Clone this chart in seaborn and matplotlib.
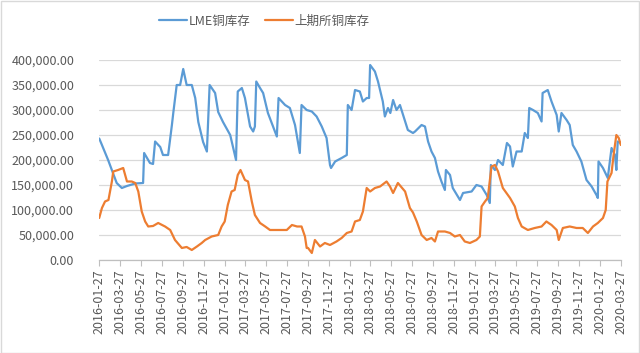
import matplotlib
matplotlib.use("Agg")
import matplotlib.pyplot as plt
import matplotlib.ticker as mticker
from matplotlib.patches import Rectangle
import seaborn as sns
import pandas as pd

series_names = ["LME铜库存", "上期所铜库存"]

lme_dates = [
    "2016-01-27", "2016-02-01", "2016-02-22", "2016-03-18", "2016-04-02", "2016-04-17",
    "2016-05-11", "2016-06-03", "2016-06-06", "2016-06-23", "2016-07-02", "2016-07-08",
    "2016-07-23", "2016-07-31", "2016-08-15", "2016-08-26", "2016-08-30", "2016-09-09",
    "2016-09-19", "2016-09-28", "2016-10-08", "2016-10-23", "2016-11-02", "2016-11-11",
    "2016-11-25", "2016-12-06", "2016-12-14", "2016-12-30", "2017-01-08", "2017-01-22",
    "2017-02-12", "2017-03-01", "2017-03-06", "2017-03-18", "2017-03-27", "2017-04-11",
    "2017-04-20", "2017-04-25", "2017-04-29", "2017-05-10", "2017-05-19", "2017-06-02",
    "2017-06-28", "2017-07-03", "2017-07-22", "2017-08-05", "2017-08-20", "2017-09-03",
    "2017-09-08", "2017-09-23", "2017-10-08", "2017-10-22", "2017-11-06", "2017-11-20",
    "2017-11-30", "2017-12-03", "2017-12-15", "2018-01-03", "2018-01-18", "2018-01-21",
    "2018-02-01", "2018-02-11", "2018-02-25", "2018-03-06", "2018-03-17", "2018-03-24",
    "2018-03-27", "2018-04-10", "2018-04-19", "2018-05-03", "2018-05-09", "2018-05-18",
    "2018-05-25", "2018-06-02", "2018-06-12", "2018-06-22", "2018-07-07", "2018-07-15",
    "2018-07-30", "2018-08-05", "2018-08-24", "2018-09-03", "2018-09-12", "2018-09-22",
    "2018-10-02", "2018-10-11", "2018-10-21", "2018-10-31", "2018-11-03", "2018-11-15",
    "2018-11-23", "2018-12-14", "2018-12-23", "2019-01-17", "2019-01-31", "2019-02-15",
    "2019-03-02", "2019-03-11", "2019-03-14", "2019-03-26", "2019-04-04", "2019-04-18",
    "2019-04-30", "2019-05-09", "2019-05-17", "2019-05-28", "2019-06-12", "2019-06-21",
    "2019-06-30", "2019-07-04", "2019-07-15", "2019-07-29", "2019-08-09", "2019-08-12",
    "2019-08-27", "2019-09-07", "2019-09-22", "2019-09-28", "2019-10-06", "2019-10-21",
    "2019-10-30", "2019-11-08", "2019-11-19", "2019-12-03", "2019-12-18", "2020-01-02",
    "2020-01-16", "2020-01-20", "2020-01-22", "2020-02-04", "2020-02-18", "2020-02-29",
    "2020-03-10", "2020-03-14", "2020-03-18", "2020-03-27",
]
lme_values = [
    243000, 235000, 200000, 154000, 144000, 148000,
    153000, 154000, 214000, 194000, 192000, 237000,
    226000, 210000, 210000, 270000, 294000, 350000,
    350000, 382000, 350000, 350000, 324000, 276000,
    236000, 217000, 350000, 334000, 296000, 276000,
    250000, 200000, 337000, 344000, 324000, 267000,
    257000, 267000, 357000, 344000, 334000, 294000,
    247000, 324000, 310000, 304000, 270000, 214000,
    310000, 300000, 297000, 287000, 267000, 244000,
    190000, 184000, 197000, 204000, 210000, 310000,
    300000, 340000, 337000, 317000, 324000, 324000,
    390000, 377000, 357000, 317000, 287000, 304000,
    294000, 320000, 300000, 310000, 277000, 260000,
    254000, 257000, 270000, 267000, 237000, 217000,
    204000, 177000, 157000, 140000, 180000, 170000,
    144000, 120000, 134000, 137000, 150000, 147000,
    130000, 114000, 190000, 180000, 200000, 190000,
    234000, 227000, 187000, 217000, 217000, 254000,
    244000, 304000, 300000, 294000, 277000, 334000,
    340000, 317000, 290000, 257000, 294000, 280000,
    270000, 230000, 217000, 197000, 160000, 147000,
    130000, 124000, 197000, 184000, 164000, 224000,
    210000, 180000, 237000, 234000,
]

shfe_dates = [
    "2016-01-27", "2016-02-04", "2016-02-13", "2016-02-23", "2016-03-04", "2016-03-08",
    "2016-03-22", "2016-04-06", "2016-04-17", "2016-05-01", "2016-05-11", "2016-05-20",
    "2016-05-30", "2016-06-09", "2016-06-18", "2016-07-02", "2016-07-17", "2016-08-06",
    "2016-08-21", "2016-09-04", "2016-09-24", "2016-10-08", "2016-10-23", "2016-11-07",
    "2016-11-21", "2016-12-01", "2016-12-20", "2017-01-08", "2017-01-18", "2017-01-27",
    "2017-02-05", "2017-02-16", "2017-02-25", "2017-03-06", "2017-03-14", "2017-03-27",
    "2017-04-05", "2017-04-16", "2017-04-25", "2017-05-10", "2017-05-25", "2017-06-08",
    "2017-07-07", "2017-07-27", "2017-08-11", "2017-08-26", "2017-09-08", "2017-09-18",
    "2017-09-23", "2017-09-27", "2017-10-08", "2017-10-17", "2017-11-01", "2017-11-15",
    "2017-11-30", "2017-12-19", "2018-01-03", "2018-01-18", "2018-02-01", "2018-02-11",
    "2018-02-25", "2018-03-06", "2018-03-17", "2018-03-27", "2018-04-10", "2018-04-25",
    "2018-05-14", "2018-05-24", "2018-06-02", "2018-06-16", "2018-07-07", "2018-07-21",
    "2018-07-30", "2018-08-10", "2018-08-24", "2018-09-08", "2018-09-22", "2018-10-02",
    "2018-10-11", "2018-10-31", "2018-11-15", "2018-11-29", "2018-12-14", "2018-12-28",
    "2019-01-12", "2019-01-31", "2019-02-10", "2019-02-15", "2019-02-25", "2019-03-05",
    "2019-03-16", "2019-03-26", "2019-04-04", "2019-04-18", "2019-05-09", "2019-05-23",
    "2019-06-01", "2019-06-12", "2019-06-30", "2019-07-20", "2019-08-09", "2019-08-23",
    "2019-09-07", "2019-09-22", "2019-09-28", "2019-10-10", "2019-10-30", "2019-11-19",
    "2019-12-07", "2019-12-22", "2020-01-06", "2020-01-20", "2020-02-04", "2020-02-12",
    "2020-02-17", "2020-02-29", "2020-03-06", "2020-03-14", "2020-03-21", "2020-03-27",
]
shfe_values = [
    84000, 104000, 117000, 120000, 157000, 177000,
    180000, 184000, 157000, 157000, 154000, 137000,
    97000, 77000, 67000, 68000, 74000, 67000,
    60000, 40000, 24000, 26000, 20000, 27000,
    34000, 40000, 47000, 50000, 67000, 77000,
    110000, 137000, 140000, 170000, 180000, 160000,
    157000, 117000, 90000, 74000, 67000, 60000,
    60000, 60000, 70000, 67000, 67000, 47000,
    24000, 24000, 14000, 40000, 27000, 34000,
    30000, 37000, 44000, 54000, 57000, 77000,
    80000, 97000, 144000, 137000, 144000, 147000,
    157000, 147000, 134000, 154000, 137000, 104000,
    95000, 77000, 50000, 40000, 44000, 37000,
    57000, 57000, 54000, 47000, 50000, 37000,
    34000, 40000, 47000, 107000, 117000, 124000,
    187000, 190000, 177000, 144000, 124000, 107000,
    84000, 67000, 60000, 64000, 67000, 77000,
    70000, 60000, 40000, 64000, 67000, 64000,
    64000, 54000, 67000, 74000, 84000, 100000,
    157000, 174000, 210000, 250000, 244000, 230000,
]

tick_labels = [
    "2016-01-27", "2016-03-27", "2016-05-27", "2016-07-27", "2016-09-27", "2016-11-27",
    "2017-01-27", "2017-03-27", "2017-05-27", "2017-07-27", "2017-09-27", "2017-11-27",
    "2018-01-27", "2018-03-27", "2018-05-27", "2018-07-27", "2018-09-27", "2018-11-27",
    "2019-01-27", "2019-03-27", "2019-05-27", "2019-07-27", "2019-09-27", "2019-11-27",
    "2020-01-27", "2020-03-27",
]
y_ticks = [0, 50000, 100000, 150000, 200000, 250000, 300000, 350000, 400000]
colors = ["#5B9BD5", "#ED7D31"]

sns.set_theme(style="white")
plt.rcParams["font.family"] = ["Noto Sans CJK SC", "DejaVu Sans"]

df = pd.concat([
    pd.DataFrame({"date": pd.to_datetime(lme_dates), "value": lme_values, "series": series_names[0]}),
    pd.DataFrame({"date": pd.to_datetime(shfe_dates), "value": shfe_values, "series": series_names[1]}),
], ignore_index=True)

fig = plt.figure(figsize=(6.4, 3.53), dpi=100)
ax = fig.add_axes([0.155, 0.2635, 0.815, 0.5665])

sns.lineplot(data=df, x="date", y="value", hue="series", hue_order=series_names,
             palette=colors, linewidth=1.6, estimator=None, sort=True, ax=ax,
             legend=True)

tick_dates = pd.to_datetime(tick_labels)
ax.set_xlim(tick_dates[0], tick_dates[-1])
ax.set_xticks(tick_dates)
ax.set_xticklabels(tick_labels, rotation=90, fontsize=9, color="#595959")
ax.set_ylim(0, 400000)
ax.set_yticks(y_ticks)
ax.yaxis.set_major_formatter(mticker.StrMethodFormatter("{x:,.2f}"))
ax.tick_params(axis="y", labelsize=9, labelcolor="#595959", length=0, pad=18)
ax.tick_params(axis="x", length=4, width=0.8, color="#bfbfbf", pad=3, direction="out", bottom=True)
ax.set_xlabel("")
ax.set_ylabel("")
ax.grid(axis="y", color="#d9d9d9", linewidth=0.9)
ax.grid(axis="x", visible=False)
ax.set_axisbelow(True)
for s in ["left", "right", "top"]:
    ax.spines[s].set_visible(False)
ax.spines["bottom"].set_color("#bfbfbf")
ax.spines["bottom"].set_linewidth(0.9)

handles, labels = ax.get_legend_handles_labels()
ax.get_legend().remove()
fig.legend(handles, labels, loc="center", bbox_to_anchor=(0.413, 0.94), ncol=2,
           frameon=False, fontsize=9, handlelength=2.2, handletextpad=0.15,
           columnspacing=1.2, labelcolor="#595959")

fig.patches.append(Rectangle((0.001, 0.001), 0.997, 0.997, transform=fig.transFigure,
                             fill=False, edgecolor="#d9d9d9", linewidth=1))

fig.savefig("out.png", dpi=100)
